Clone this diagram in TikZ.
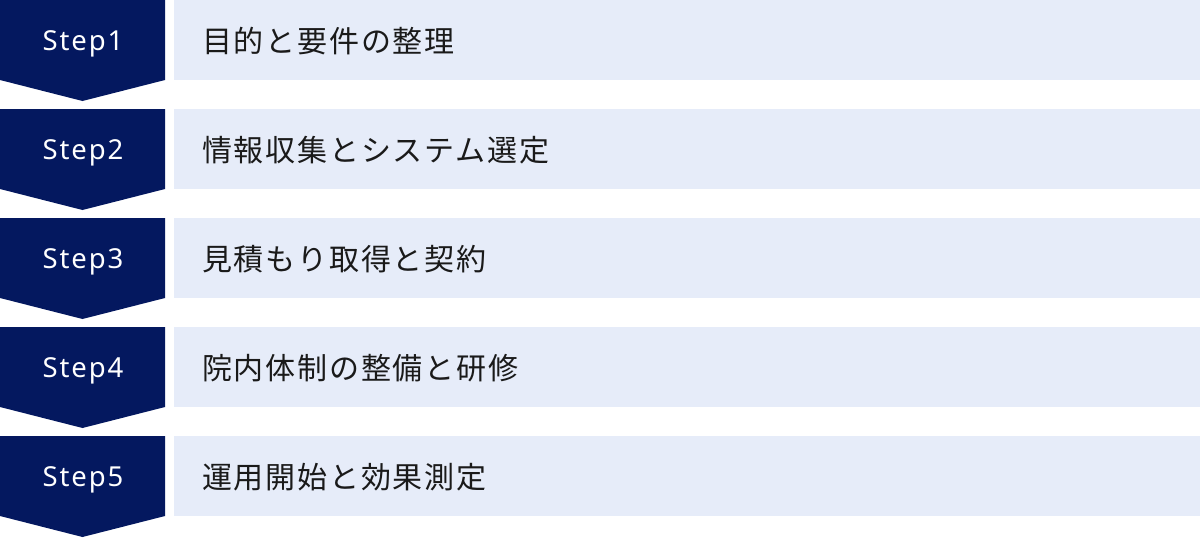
\documentclass[tikz,border=0pt]{standalone}
\usepackage{fontspec}
\newfontfamily\stepfont[LetterSpace=7]{Noto Sans}
\newfontfamily\jpfont[LetterSpace=6]{Noto Sans CJK JP}
\definecolor{navy}{HTML}{04185F}
\definecolor{lightbox}{HTML}{E6ECF9}
\definecolor{jptext}{HTML}{1A1A1A}
\tikzset{
  chevron/.style={fill=navy, draw=none},
  band/.style={fill=lightbox, draw=none},
  steplabel/.style={text=white, font=\stepfont\fontsize{27.5}{30}\selectfont, inner sep=0pt, anchor=base},
  tasklabel/.style={text=jptext, font=\jpfont\fontsize{30}{34}\selectfont, inner sep=0pt, anchor=west}
}
\begin{document}
\begin{tikzpicture}[x=1pt,y=-1pt]
\useasboundingbox (0,0) rectangle (1200,538);
\foreach \i/\task in {1/目的と要件の整理,2/情報収集とシステム選定,3/見積もり取得と契約,4/院内体制の整備と研修,5/運用開始と効果測定}{
  \pgfmathsetmacro{\t}{(\i-1)*109}
  \fill[chevron] (0,\t) -- (165,\t) -- (165,\t+80) -- (82.5,\t+101) -- (0,\t+80) -- cycle;
  \fill[band] (174,\t) rectangle (1200,\t+80);
  \node[steplabel] (step\i) at (83,\t+50) {Step\i};
  \node[tasklabel] (task\i) at (202,\t+41) {\task};
}
\end{tikzpicture}
\end{document}
